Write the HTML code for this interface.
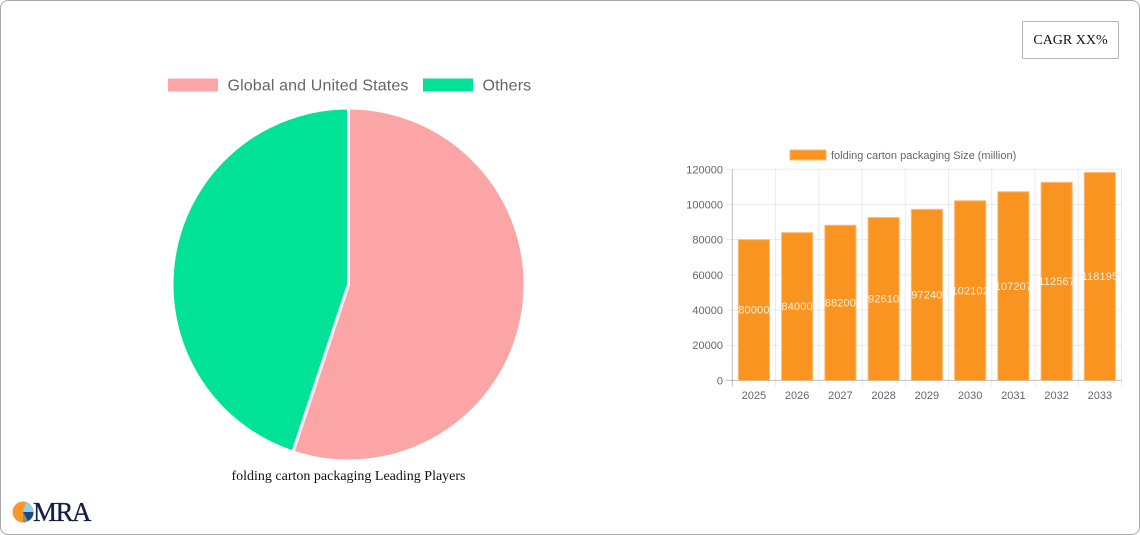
<!DOCTYPE html>
<html lang="en">
<head>
<meta charset="utf-8">
<title>folding carton packaging</title>
<style>
html,body{margin:0;padding:0;background:#fff;}
#card{position:relative;width:1138px;height:533px;border:1px solid #a9a9a9;border-radius:8px;overflow:hidden;background:#fff;}
#stage{position:absolute;left:-1px;top:-1px;}
#cagr{position:absolute;left:1021px;top:20px;width:95px;height:36px;border:1px solid #b4b4b4;border-radius:2px;font:14px/38px "Liberation Serif",serif;color:#111;text-align:center;background:#fff;}
</style>
</head>
<body>
<div id="card">
<svg id="stage" width="1140" height="535" viewBox="0 0 1140 535" xmlns="http://www.w3.org/2000/svg">
  <g id="pie"></g>
  <g id="pieLegend"></g>
  <text x="348.5" y="480" text-anchor="middle" font-family="'Liberation Serif',serif" font-size="14" fill="#111">folding carton packaging Leading Players</text>
  <g id="bars"></g>
  <g>
    <circle cx="23" cy="512" r="10.5" fill="#f6982a"/>
    <path d="M23 512 L26 501.9 A10.5 10.5 0 0 1 33.5 512 Z" fill="#8fd0ea"/>
    <path d="M23 512 L33.5 512 A10.5 10.5 0 0 1 28 521.2 Z" fill="#17497f"/>
    <path d="M23 512 L28 521.2 A10.5 10.5 0 0 1 23 522.5 Z" fill="#8a8a8a"/>
    <text x="33" y="521" font-family="'Liberation Serif',serif" font-size="27" letter-spacing="-1.5" fill="#141d4a" stroke="#141d4a" stroke-width="0.3">MRA</text>
  </g>
</svg>
<div id="cagr">CAGR XX%</div>
</div>
<script>
var pieLabels = ["Global and United States", "Others"];
var pieValues = [55.1, 44.9];
var pieColors = ["#fca5a6", "#00e396"];
var years = ["2025","2026","2027","2028","2029","2030","2031","2032","2033"];
var sizes = [80000,84000,88200,92610,97240,102102,107207,112567,118195];
var yTicks = [0,20000,40000,60000,80000,100000,120000];
var yMax = 120000;
var seriesName = "folding carton packaging Size (million)";

var NS = "http://www.w3.org/2000/svg";
function mk(parent, tag, attrs, txt){
  var el = document.createElementNS(NS, tag);
  for (var k in attrs) el.setAttribute(k, attrs[k]);
  if (txt !== undefined) el.textContent = txt;
  parent.appendChild(el);
  return el;
}
var SANS = "'Liberation Sans',sans-serif";

/* pie */
var pieG = document.getElementById("pie");
var cx = 348.5, cy = 284.5, R = 176.5;
var total = pieValues.reduce(function(a,b){return a+b;},0);
var start = -Math.PI/2;
pieValues.forEach(function(v,i){
  var sweep = v/total*2*Math.PI, end = start+sweep;
  var x0 = cx+R*Math.cos(start), y0 = cy+R*Math.sin(start);
  var x1 = cx+R*Math.cos(end), y1 = cy+R*Math.sin(end);
  var d = "M"+cx+" "+cy+" L"+x0+" "+y0+" A"+R+" "+R+" 0 "+(sweep>Math.PI?1:0)+" 1 "+x1+" "+y1+" Z";
  var p = mk(pieG,"path",{d:d,fill:pieColors[i],stroke:"#fff","stroke-width":3,"stroke-linejoin":"miter"});
  
  
  start = end;
});

/* pie legend */
var lg = document.getElementById("pieLegend");
var legendX = [168, 423];
pieLabels.forEach(function(t,i){
  var r = mk(lg,"rect",{x:legendX[i],y:78.5,width:50,height:13,fill:pieColors[i]});
  
  
  var tx = mk(lg,"text",{x:legendX[i]+59.5,y:90.5,"font-family":SANS,"font-size":16,"letter-spacing":0.13,fill:"#666"},t);
  
  
});

/* bar chart */
var g = document.getElementById("bars");
var L = 732.3, Rt = 1121.5, T = 169.3, B = 380.4;
function yScale(v){ return B-(v/yMax)*(B-T); }
function bandX(i){ return L+(Rt-L)/years.length*i; }
var band = (Rt-L)/years.length;
var barW = band*0.72;

var sw = mk(g,"rect",{x:790,y:150,width:36,height:10,fill:"#f99420",stroke:"#fdb874","stroke-width":1});


var st = mk(g,"text",{x:831,y:159,"font-family":SANS,"font-size":11,fill:"#666"},seriesName);



yTicks.forEach(function(t){
  var y = yScale(t);
  var ln = mk(g,"line",{x1:726,x2:Rt,y1:y,y2:y,stroke:t===0?"rgba(0,0,0,0.25)":"rgba(0,0,0,0.08)","stroke-width":1});
  
  
  var lb = mk(g,"text",{x:723,y:y+4,"text-anchor":"end","font-family":SANS,"font-size":11,fill:"#666"},t);
  
  
});
for (var i=0;i<=years.length;i++){
  var vx = bandX(i);
  var vl = mk(g,"line",{x1:vx,x2:vx,y1:T,y2:386.5,stroke:i===0?"rgba(0,0,0,0.25)":"rgba(0,0,0,0.08)","stroke-width":1});
  
  
}
sizes.forEach(function(v,i){
  var x = bandX(i)+(band-barW)/2, y = yScale(v);
  var b = mk(g,"path",{d:"M"+x+" "+B+" V"+y+" H"+(x+barW)+" V"+B,fill:"#f99420",stroke:"#fdbb7c","stroke-width":1});
  
  
  var mid = bandX(i)+band/2;
  var vt = mk(g,"text",{x:mid,y:(y+B)/2+3.7,"text-anchor":"middle","font-family":SANS,"font-size":11,"letter-spacing":0.15,fill:"#fff","fill-opacity":0.85},v);
  
  
  var xt = mk(g,"text",{x:mid,y:399,"text-anchor":"middle","font-family":SANS,"font-size":11,fill:"#666"},years[i]);
  
  
});
</script>
</body>
</html>
